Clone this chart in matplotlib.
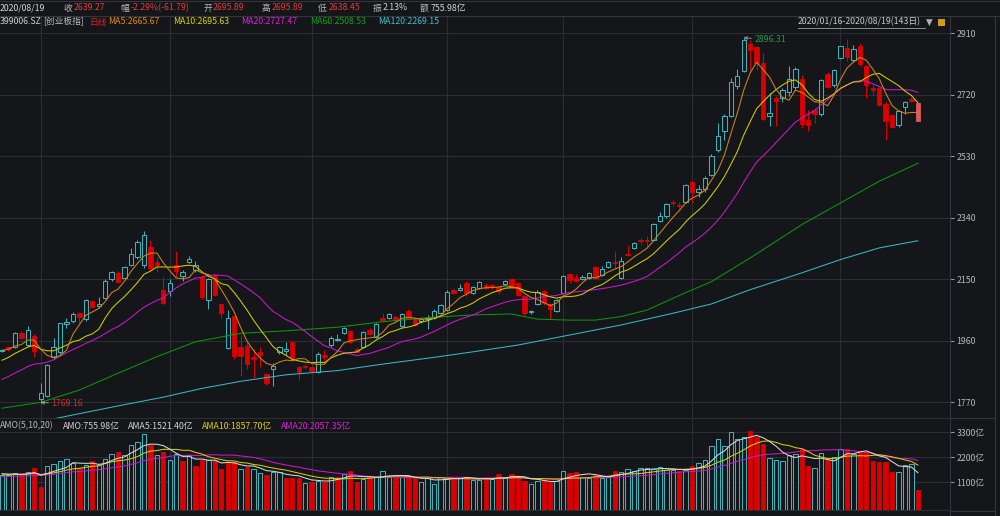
import matplotlib
matplotlib.use("Agg")
import matplotlib.pyplot as plt
import pandas as pd
from matplotlib.patches import Rectangle
from matplotlib.lines import Line2D

# 399006.SZ 创业板指, daily, 2020/01/16 - 2020/08/19 (143 days)
opens = [1928, 1940, 1942, 1983, 1947, 1975, 1780, 1790, 1911, 1926,
         2012, 2022, 2046, 2026, 2083, 2068, 2091, 2151, 2170, 2153,
         2194, 2220, 2195, 2249, 2205, 2117, 2115, 2194, 2161, 2205,
         2179, 2158, 2086, 2163, 2073, 1939, 2037, 1940, 1944, 1910,
         1926, 1857, 1872, 1925, 1928, 1957, 1879, 1882, 1879, 1863,
         1916, 1946, 1962, 1983, 1991, 1934, 1940, 1993, 1973, 2029,
         2031, 2035, 2006, 2053, 2031, 2020, 2026, 2031, 2047, 2055,
         2117, 2118, 2140, 2109, 2122, 2133, 2131, 2127, 2136, 2150,
         2138, 2100, 2050, 2073, 2114, 2073, 2052, 2107, 2166, 2155,
         2152, 2155, 2187, 2163, 2189, 2204, 2153, 2228, 2247, 2271,
         2272, 2271, 2330, 2347, 2390, 2380, 2390, 2450, 2420, 2428,
         2473, 2550, 2607, 2654, 2746, 2793, 2878, 2868, 2818, 2656,
         2710, 2710, 2728, 2743, 2770, 2641, 2672, 2661, 2784, 2749,
         2834, 2865, 2828, 2870, 2808, 2740, 2741, 2692, 2657, 2626,
         2683, 2707, 2695.89]
highs = [1936, 1945, 1986, 1990, 2006, 1980, 1829, 1888, 1968, 2016,
         2030, 2048, 2048, 2090, 2086, 2096, 2150, 2175, 2175, 2192,
         2246, 2271, 2300, 2271, 2220, 2158, 2150, 2238, 2180, 2222,
         2208, 2160, 2155, 2165, 2078, 2055, 2040, 1978, 1955, 1935,
         1940, 1862, 1891, 1945, 1955, 1960, 1882, 1888, 1882, 1925,
         1931, 1974, 1980, 2003, 1995, 1940, 1990, 1999, 2015, 2046,
         2046, 2040, 2047, 2058, 2035, 2035, 2040, 2058, 2075, 2116,
         2122, 2136, 2144, 2128, 2145, 2138, 2137, 2130, 2148, 2155,
         2143, 2102, 2054, 2116, 2118, 2076, 2090, 2163, 2170, 2165,
         2162, 2172, 2190, 2190, 2207, 2236, 2220, 2256, 2264, 2278,
         2283, 2325, 2359, 2385, 2395, 2388, 2445, 2455, 2442, 2470,
         2537, 2633, 2660, 2772, 2800, 2896.31, 2890, 2870, 2849, 2726,
         2717, 2742, 2808, 2805, 2782, 2674, 2680, 2770, 2790, 2800,
         2872, 2892, 2875, 2880, 2812, 2752, 2745, 2697, 2662, 2672,
         2702, 2712, 2695.89]
lows = [1924, 1930, 1938, 1965, 1945, 1911, 1769.16, 1785, 1905, 1920,
        2000, 2015, 2015, 2020, 2060, 2060, 2088, 2145, 2138, 2148,
        2190, 2212, 2185, 2180, 2173, 2070, 2100, 2158, 2145, 2200,
        2172, 2090, 2057, 2098, 2031, 1935, 1905, 1852, 1872, 1844,
        1880, 1824, 1821, 1920, 1916, 1903, 1839, 1872, 1865, 1860,
        1900, 1942, 1960, 1980, 1950, 1922, 1937, 1977, 1970, 2020,
        2028, 2015, 2003, 2028, 2005, 2014, 1998, 2028, 2045, 2052,
        2104, 2115, 2100, 2105, 2120, 2120, 2120, 2105, 2133, 2122,
        2098, 2040, 2044, 2070, 2070, 2027, 2048, 2105, 2140, 2143,
        2148, 2152, 2150, 2160, 2185, 2185, 2150, 2222, 2244, 2255,
        2250, 2268, 2328, 2340, 2375, 2368, 2387, 2387, 2405, 2420,
        2470, 2543, 2581, 2650, 2739, 2790, 2793, 2798, 2640, 2623,
        2623, 2698, 2715, 2735, 2617, 2609, 2632, 2655, 2740, 2745,
        2830, 2824, 2822, 2810, 2710, 2718, 2685, 2581, 2617, 2620,
        2661, 2698, 2638.45]
closes = [1932, 1936, 1983, 1968, 1993, 1930, 1798, 1885, 1942, 2014,
          2018, 2043, 2033, 2086, 2066, 2074, 2146, 2172, 2141, 2189,
          2227, 2266, 2287, 2184, 2195, 2076, 2140, 2177, 2172, 2212,
          2194, 2094, 2151, 2102, 2047, 2031, 1913, 1914, 1888, 1904,
          1916, 1831, 1882, 1940, 1934, 1906, 1864, 1878, 1868, 1920,
          1909, 1970, 1967, 1999, 1955, 1927, 1986, 1980, 2011, 2025,
          2043, 2024, 2043, 2031, 2009, 2026, 2032, 2053, 2071, 2112,
          2107, 2124, 2107, 2125, 2141, 2123, 2127, 2115, 2145, 2125,
          2102, 2047, 2053, 2112, 2076, 2057, 2086, 2160, 2148, 2146,
          2157, 2169, 2153, 2182, 2203, 2200, 2208, 2224, 2261, 2268,
          2269, 2321, 2346, 2382, 2386, 2375, 2441, 2421, 2428, 2464,
          2530, 2592, 2654, 2759, 2779, 2888, 2859, 2818, 2646, 2663,
          2700, 2736, 2770, 2801, 2631, 2628, 2660, 2767, 2743, 2796,
          2870, 2836, 2861, 2815, 2751, 2735, 2689, 2638, 2621, 2669,
          2698, 2701.06, 2639.27]
# 成交额, 亿
amounts = [1424, 1424, 1498, 1424, 1572, 1720, 875, 1824, 1913, 2017,
           2121, 1943, 1720, 1869, 2047, 1869, 2121, 2358, 2418, 2314,
           2729, 2863, 3234, 2759, 2284, 2432, 2092, 2343, 2047, 2299,
           1824, 2100, 2092, 2062, 1676, 1943, 2000, 1676, 1795, 1676,
           1498, 1424, 1543, 1543, 1276, 1276, 1290, 1053, 1127, 1172,
           1127, 1350, 1350, 1453, 1602, 1098, 1246, 1320, 1350, 1602,
           1350, 1350, 1350, 1320, 1276, 1098, 1305, 1023, 1350, 1350,
           1276, 1276, 1320, 1216, 1201, 1276, 1231, 1468, 1276, 1468,
           1350, 1157, 1023, 1172, 1201, 1127, 1157, 1602, 1528, 1572,
           1350, 1305, 1424, 1276, 1320, 1602, 1572, 1691, 1617, 1720,
           1720, 1676, 1765, 1646, 1646, 1602, 1646, 1824, 1943, 2070,
           2700, 2996, 2700, 3293, 2996, 3100, 3337, 3100, 2773, 2180,
           2077, 2032, 2300, 2350, 2550, 1810, 1720, 2370, 2060, 2230,
           2580, 2550, 2350, 2480, 2450, 2050, 1980, 2010, 1543, 1543,
           1880, 1885, 755.98]
# the 19 sessions before the window, only used to warm up MA5/10/20
prior_closes = [1762, 1770, 1775, 1778, 1780, 1770, 1792, 1800, 1795, 1798,
                1848, 1862, 1868, 1895, 1877, 1915, 1935, 1945, 1923]
prior_amounts = [1180, 1220, 1250, 1300, 1210, 1240, 1280, 1330, 1290, 1300,
                 1320, 1410, 1350, 1400, 1320, 1520, 1480, 1510, 1466]
# long averages (need history older than the window)
ma60_idx = [0, 6, 12, 18, 24, 30, 37, 44, 52, 59, 67, 73, 79, 83, 88, 92,
            96, 100, 106, 110, 116, 124, 130, 136, 142]
ma60_val = [1752, 1770, 1808, 1860, 1911, 1957, 1983, 1991, 2002, 2019, 2033,
            2040, 2043, 2027, 2024, 2024, 2035, 2055, 2109, 2143, 2216, 2319,
            2386, 2453, 2508.53]
ma120_idx = [0, 9, 18, 25, 31, 37, 44, 52, 59, 67, 73, 80, 88, 96, 104, 110,
             116, 124, 130, 136, 142]
ma120_val = [1688, 1723, 1759, 1786, 1813, 1835, 1855, 1868, 1888, 1909, 1926,
             1947, 1978, 2009, 2045, 2074, 2118, 2170, 2211, 2247, 2269.15]
month_start_idx = [6, 26, 48, 69, 87, 107, 130]
price_ticks = [1770, 1960, 2150, 2340, 2530, 2720, 2910]
amount_ticks = [1100, 2200, 3300]

plt.rcParams["font.family"] = ["Noto Sans CJK SC", "DejaVu Sans"]

BG = "#14161a"
GRID = "#2a2d32"
TXT = "#b8b8b8"
UP = "#3fb1b8"
DOWN = "#dd0000"
LAST = "#e05858"
FS = 6.3
H_PX = 516.0
LW = 0.75

n = len(closes)
close_all = pd.Series(prior_closes + closes, dtype=float)
ma5 = close_all.rolling(5).mean().iloc[len(prior_closes):].values
ma10 = close_all.rolling(10).mean().iloc[len(prior_closes):].values
ma20 = close_all.rolling(20).mean().iloc[len(prior_closes):].values
amt_all = pd.Series(prior_amounts + amounts, dtype=float)
ama5 = amt_all.rolling(5).mean().iloc[len(prior_amounts):].values
ama10 = amt_all.rolling(10).mean().iloc[len(prior_amounts):].values
ama20 = amt_all.rolling(20).mean().iloc[len(prior_amounts):].values
prev_close = [prior_closes[-1]] + closes[:-1]


def fy(py):
    return 1 - py / H_PX


fig = plt.figure(figsize=(10, 5.16), dpi=100, facecolor=BG)
ax = fig.add_axes([0, fy(418.3), 0.95, (418.3 - 16) / H_PX], facecolor=BG)
ax_v = fig.add_axes([0, fy(510), 0.95, (510 - 419) / H_PX], facecolor=BG)

for a in (ax, ax_v):
    a.set_xlim(-0.31, 146.98)
    a.set_xticks([])
    for s in a.spines.values():
        s.set_visible(False)
    for m in month_start_idx:
        a.axvline(m, color=GRID, lw=0.8, zorder=0)
    a.yaxis.tick_right()
    a.tick_params(axis="y", colors=TXT, labelsize=FS, length=3, width=0.6,
                  pad=1.5, direction="out")
    a.grid(axis="y", color=GRID, lw=0.8, zorder=0)
    a.set_axisbelow(True)

# ---- price panel
ax.set_ylim(1720.7, 2963.4)
ax.set_yticks(price_ticks)
ax.spines["bottom"].set_visible(True)
ax.spines["bottom"].set_color(GRID)

W = 0.68
for i, (o, h, l, c) in enumerate(zip(opens, highs, lows, closes)):
    if c > o:
        ax.vlines(i, c, h, color=UP, lw=LW, zorder=3)
        ax.vlines(i, l, o, color=UP, lw=LW, zorder=3)
        ax.add_patch(Rectangle((i - W / 2, o), W, c - o, facecolor=BG,
                               edgecolor=UP, lw=LW, zorder=3))
    else:
        col = LAST if i == n - 1 else DOWN
        ax.vlines(i, l, h, color=col, lw=LW, zorder=3)
        ax.add_patch(Rectangle((i - W / 2, c), W, max(o - c, 1.5),
                               facecolor=col, edgecolor=col, lw=0.6, zorder=3))

x = list(range(n))
ax.plot(ma120_idx, ma120_val, color="#3ab6c6", lw=LW, zorder=4)
ax.plot(ma60_idx, ma60_val, color="#0c960c", lw=LW, zorder=4)
ax.plot(x, ma20, color="#cc16cc", lw=LW, zorder=4)
ax.plot(x, ma10, color="#d4cc00", lw=LW, zorder=4)
ax.plot(x, ma5, color="#d08418", lw=LW, zorder=4)

lo_i = lows.index(min(lows))
hi_i = highs.index(max(highs))
arrow = dict(arrowstyle="->", color="#a8a8a8", lw=0.6, shrinkA=0, shrinkB=0,
             mutation_scale=5)
ax.annotate(f"{lows[lo_i]:.2f}", xy=(lo_i, lows[lo_i]), xytext=(7.5, -0.5),
            textcoords="offset points", color="#c83232", fontsize=FS,
            va="center", ha="left", arrowprops=arrow, zorder=5)
ax.annotate(f"{highs[hi_i]:.2f}", xy=(hi_i, highs[hi_i]), xytext=(7.5, -1.5),
            textcoords="offset points", color="#1f9a48", fontsize=FS,
            va="center", ha="left", arrowprops=arrow, zorder=5)

# ---- amount panel
vmin = -119
ax_v.set_ylim(vmin, 3885)
ax_v.set_yticks(amount_ticks)
ax_v.set_yticklabels([f"{t}亿" for t in amount_ticks])
ax_v.spines["bottom"].set_visible(True)
ax_v.spines["bottom"].set_color(GRID)
for i, v in enumerate(amounts):
    if closes[i] >= prev_close[i]:
        ax_v.add_patch(Rectangle((i - W / 2, vmin), W, v - vmin, facecolor=BG,
                                 edgecolor=UP, lw=LW, zorder=3))
    else:
        ax_v.add_patch(Rectangle((i - W / 2, vmin), W, v - vmin,
                                 facecolor=DOWN, edgecolor=DOWN, lw=0.6, zorder=3))
ax_v.plot(x, ama20, color="#cc16cc", lw=LW, zorder=4)
ax_v.plot(x, ama10, color="#d4cc00", lw=LW, zorder=4)
ax_v.plot(x, ama5, color="#d8d8d8", lw=LW, zorder=4)

# ---- frame lines
FRAME = "#33363c"
for py in (1, 15.5):
    fig.add_artist(Line2D([0, 1], [fy(py), fy(py)], color=FRAME, lw=0.8))
fig.add_artist(Line2D([0.95, 0.95], [fy(16), fy(516)], color=FRAME, lw=0.8))
fig.add_artist(Line2D([0.995, 0.995], [fy(16), fy(516)], color=FRAME, lw=0.8))
fig.add_artist(Line2D([0.95, 0.995], [fy(418.3), fy(418.3)], color=FRAME, lw=0.8))
fig.add_artist(Line2D([0.95, 0.995], [fy(510.5), fy(510.5)], color=FRAME, lw=0.8))

# ---- header texts
chg = closes[-1] - prev_close[-1]
amp = (highs[-1] - lows[-1]) / prev_close[-1] * 100
row1 = [
    (0, "2020/08/19", "#d4d4d4"),
    (63, "收", TXT), (74, f"{closes[-1]:.2f}", "#e23c3c"),
    (120, "幅", TXT), (131, f"{chg / prev_close[-1] * 100:.2f}%({chg:.2f})", "#e23c3c"),
    (203, "开", TXT), (213, f"{opens[-1]:.2f}", "#e23c3c"),
    (262, "高", TXT), (272, f"{highs[-1]:.2f}", "#e23c3c"),
    (318, "低", TXT), (329, f"{lows[-1]:.2f}", "#e23c3c"),
    (373, "振", TXT), (383, f"{amp:.2f}%", "#d4d4d4"),
    (420, "额", TXT), (431, f"{amounts[-1]:.2f}亿", "#d4d4d4"),
]
for px, s, col in row1:
    fig.text(px / 1000, fy(8), s, color=col, fontsize=FS, va="center", ha="left")

row2 = [
    (0, "399006.SZ", "#d0d0d0"),
    (43, "[创业板指]", TXT),
    (89, "日线", "#e02020"),
    (108, f"MA5:{ma5[-1]:.2f}", "#e08a10"),
    (173, f"MA10:{ma10[-1]:.2f}", "#dcd400"),
    (241, f"MA20:{ma20[-1]:.2f}", "#d820d8"),
    (310, f"MA60:{ma60_val[-1]:.2f}", "#10a010"),
    (378, f"MA120:{ma120_val[-1]:.2f}", "#40c0d0"),
]
for px, s, col in row2:
    fig.text(px / 1000, fy(22), s, color=col, fontsize=FS, va="center", ha="left")

fig.text(0.798, fy(22), "2020/01/16-2020/08/19(143日)", color="#c8c8c8",
         fontsize=FS, va="center", ha="left")
fig.add_artist(Line2D([0.798, 0.925], [fy(27.5), fy(27.5)], color="#a0a0a0", lw=0.6))
fig.text(0.926, fy(22), "▼", color="#b0b0b0", fontsize=FS, va="center",
         ha="left", family="DejaVu Sans")
fig.add_artist(Rectangle((0.938, fy(26)), 0.007, 7 / H_PX, transform=fig.transFigure,
                         facecolor="#d09a20", edgecolor="none"))

row3 = [
    (0, "AMO(5,10,20)", TXT),
    (63, f"AMO:{amounts[-1]:.2f}亿", "#d4d4d4"),
    (128, f"AMA5:{ama5[-1]:.2f}亿", "#d4d4d4"),
    (202, f"AMA10:{ama10[-1]:.2f}亿", "#dcd400"),
    (281, f"AMA20:{ama20[-1]:.2f}亿", "#d820d8"),
]
for px, s, col in row3:
    fig.text(px / 1000, fy(426), s, color=col, fontsize=FS, va="center", ha="left")

fig.savefig("out.png", dpi=100, facecolor=BG)
